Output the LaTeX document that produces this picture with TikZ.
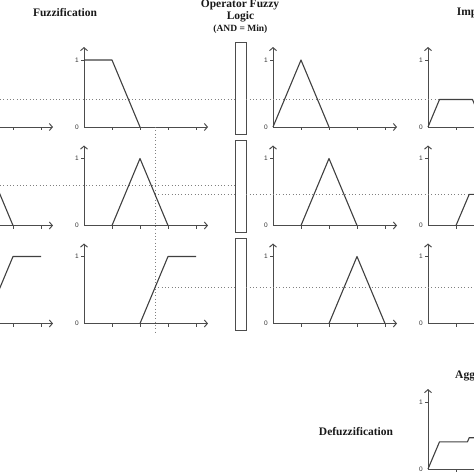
\documentclass[tikz,border=0pt]{standalone}
\usepackage{fontspec}
\setmainfont{Liberation Serif}
\newfontfamily\lblfont{Liberation Sans}
\usetikzlibrary{arrows.meta}

\begin{document}
\begin{tikzpicture}[x=1pt,y=-1pt,>={Straight Barb[length=3pt,width=7pt]},
    axis/.style={draw=black!70,line width=1pt},
    mf/.style={draw=black!75,line width=1.1pt,line join=round},
    guide/.style={draw=black!50,line width=0.9pt,dash pattern=on 0.9pt off 2.4pt},
    opbox/.style={draw=black!70,fill=white,line width=0.8pt,minimum width=11pt,minimum height=92pt,inner sep=0pt},
    title/.style={font=\fontsize{11.5}{12}\selectfont\bfseries,text=black!90,inner sep=0pt},
    num/.style={font=\lblfont\fontsize{6.5}{7}\selectfont,text=black!80,inner sep=0pt}]
  \useasboundingbox (0,0) rectangle (474,474);
  \clip (0,0) rectangle (474,474);

  % titles
  \node[title,anchor=base] (fuzz) at (65,16) {Fuzzification};
  \node[title,anchor=base] (opname) at (240,7) {Operator Fuzzy};
  \node[title,anchor=base] (oplogic) at (240.5,19.5) {Logic};
  \node[title,anchor=base,font=\fontsize{9.5}{10}\selectfont\bfseries] (opmin) at (240.4,31.5) {(AND = Min)};
  \node[title,anchor=base west] (imp) at (456.7,15) {Implication};
  \node[title,anchor=base west] (agg) at (455,378) {Aggregation};
  \node[title,anchor=base] (defuzz) at (356,435) {Defuzzification};

  % axes
  \foreach \ox/\oy [count=\i] in {-71/127,84/127,273/127,428/127,
      -71/225.5,84/225.5,273/225.5,428/225.5,
      -71/323.5,84/323.5,273/323.5,428/323.5,428/469}
  {
    \draw[axis,->] (\ox,\oy) -- (\ox+124,\oy);
    \draw[axis,->] (\ox,\oy) -- (\ox,\oy-80);
    \foreach \k in {1,...,4}
      \draw[axis] (\ox+28*\k,\oy) -- (\ox+28*\k,\oy+3);
    \draw[axis] (\ox-3,\oy-67) -- (\ox,\oy-67);
    \node[num] (zero\i) at (\ox-7,\oy) {0};
    \node[num] (one\i) at (\ox-7,\oy-67) {1};
  }

  % AND boxes
  \node[opbox] (and1) at (240.5,88) {};
  \node[opbox] (and2) at (240.5,186) {};
  \node[opbox] (and3) at (240.5,284) {};

  % cut lines
  \coordinate (in1) at (0,99.5);
  \coordinate (out1) at (474,99.5);
  \coordinate (in2a) at (0,185.7);
  \coordinate (in2b) at (155,194.4);
  \coordinate (out2) at (474,194.4);
  \coordinate (in3) at (155,287.6);
  \coordinate (out3) at (474,287.6);
  \coordinate (cuttop) at (155,127);
  \coordinate (cutbot) at (155,333);
  \draw[guide] (in1) -- (in1 -| and1.west);
  \draw[guide] (in1 -| and1.east) -- (out1);
  \draw[guide] (in2a) -- (in2a -| and2.west);
  \draw[guide] (in2b) -- (in2b -| and2.west);
  \draw[guide] (in2b -| and2.east) -- (out2);
  \draw[guide] (in3) -- (in3 -| and3.west);
  \draw[guide] (in3 -| and3.east) -- (out3);
  \draw[guide] (cuttop) -- (cutbot);

  % membership functions
  \draw[mf] (-15,158.5) -- (13,225.5);
  \draw[mf] (-15,323.5) -- (13,256.5) -- (41,256.5);
  \draw[mf] (84,60) -- (112,60) -- (140,127);
  \draw[mf] (112,225.5) -- (140,158.5) -- (168,225.5);
  \draw[mf] (140,323.5) -- (168,256.5) -- (196,256.5);
  \draw[mf] (273,127) -- (301,60) -- (329,127);
  \draw[mf] (301,225.5) -- (329,158.5) -- (357,225.5);
  \draw[mf] (329,323.5) -- (357,256.5) -- (385,323.5);
  \draw[mf] (428,127) -- (439.5,99.5) -- (472.5,99.5) -- (484,127);
  \draw[mf] (456,225.5) -- (469.2,194.4) -- (500,194.4);
  \draw[mf] (428,469) -- (439.5,441.8) -- (467.5,441.8) -- (469.2,437.7) -- (490,437.7);
\end{tikzpicture}
\end{document}
